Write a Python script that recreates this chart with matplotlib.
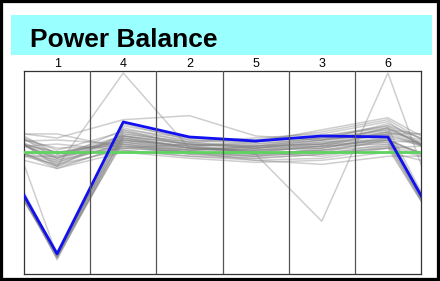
import matplotlib
matplotlib.use("Agg")
from matplotlib import pyplot as plt
from matplotlib.patches import Rectangle
import numpy as np

# column order as shown, left to right
columns = ["1", "4", "2", "5", "3", "6"]

# highlighted series and reference line (values on a 0-100 scale)
blue_values = [9.9, 74.9, 67.5, 65.5, 68.0, 67.5]
green_values = [60, 60, 60, 60, 60, 60]

# background series: flat group
gray_flat = [
    [57, 66, 62, 60, 63, 70],
    [55, 64, 61, 62, 65, 72],
    [59, 68, 64, 63, 66, 74],
    [53, 62, 60, 58, 60, 66],
    [61, 70, 66, 65, 68, 73],
    [56, 63, 59, 57, 59, 64],
    [54, 61, 58, 56, 57, 62],
    [58, 67, 63, 64, 67, 71],
    [60, 65, 62, 61, 62, 68],
    [52, 60, 57, 55, 56, 60],
    [69, 62, 64, 62, 66, 69],
    [66, 64, 60, 59, 61, 65],
    [57, 71, 67, 66, 70, 76],
    [55, 66, 63, 60, 58, 63],
    [62, 63, 61, 63, 64, 70],
    [53, 69, 65, 67, 69, 75],
    [58, 62, 60, 56, 54, 58],
    [56, 67, 62, 61, 64, 72],
    [60, 64, 59, 58, 62, 67],
    [54, 65, 61, 63, 67, 73],
    [64, 61, 58, 57, 59, 62],
    [57, 68, 64, 62, 63, 69],
    [52, 63, 60, 59, 61, 66],
    [59, 66, 63, 65, 71, 77],
    [53, 99, 62, 61, 63, 66],
    [67, 76, 78, 68, 66, 71],
]

# background series: low at column 1
gray_low = [
    [9, 74, 66, 64, 67, 68],
    [8, 72, 65, 62, 65, 66],
    [10, 70, 64, 63, 64, 69],
    [11, 68, 62, 60, 63, 64],
    [8, 66, 61, 61, 62, 67],
    [9, 71, 63, 59, 61, 63],
    [7, 69, 65, 63, 66, 70],
    [10, 65, 60, 58, 60, 62],
    [9, 73, 67, 65, 68, 72],
    [8, 67, 62, 62, 64, 65],
    [9, 68, 64, 59, 26, 99],
]

n = len(columns)
x = np.arange(-1, n + 1)


def wrap(vals):
    # the axes wrap around: last column continues into the first
    return [vals[-1]] + list(vals) + [vals[0]]


fig = plt.figure(figsize=(4.4, 2.81), dpi=100)
fig.patch.set_facecolor("white")

# title band
fig.patches.append(Rectangle((11 / 440, 1 - 55 / 281), 421 / 440, 40 / 281,
                             transform=fig.transFigure, facecolor="#99ffff",
                             edgecolor="none", zorder=0))
fig.text(30 / 440, 1 - 47 / 281, "Power Balance", fontsize=19, fontweight="bold",
         family=["Liberation Sans", "DejaVu Sans"], ha="left", va="baseline")

# outer frame
fig.patches.append(Rectangle((0, 0), 1, 1, transform=fig.transFigure, fill=False,
                             edgecolor="black", linewidth=4.5, zorder=10))

ax = fig.add_axes([24 / 440, 7 / 281, 397 / 440, 203 / 281])

for row in gray_flat + gray_low:
    ax.plot(x, wrap(row), color="#808080", alpha=0.38, lw=1.1, zorder=2)

ax.plot(x, wrap(green_values), color="#5fd35f", lw=2, zorder=3)
ax.plot(x, wrap(blue_values), color="#1010f0", lw=2, zorder=4)

for b in np.arange(0.5, n - 1, 1):
    ax.axvline(b, color="#555555", lw=0.9, zorder=5)

ax.set_xlim(-0.5, n - 0.5)
ax.set_ylim(0, 100)
ax.xaxis.tick_top()
ax.set_xticks(range(n))
ax.set_xticklabels(columns, family=["Liberation Sans", "DejaVu Sans"], fontsize=9)
ax.tick_params(axis="x", length=0, pad=1)
ax.set_yticks([])
for s in ax.spines.values():
    s.set_color("#333333")
    s.set_linewidth(0.9)

plt.savefig("out.png", dpi=100)
